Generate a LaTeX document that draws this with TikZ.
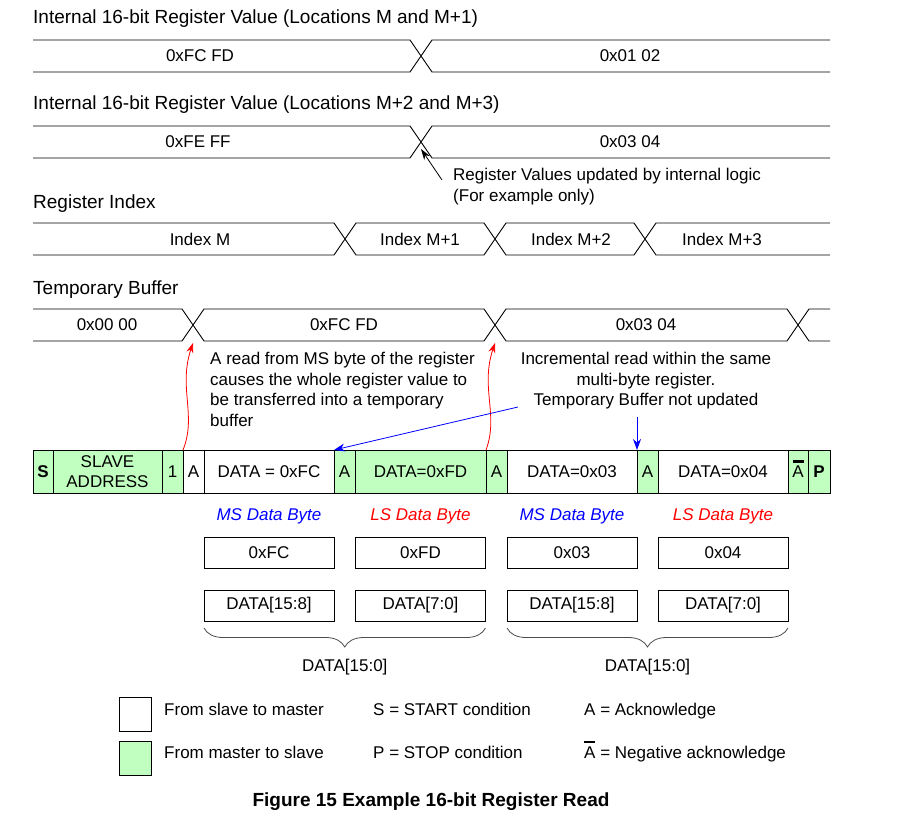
\documentclass[tikz,border=0pt]{standalone}
\usepackage{fontspec}
\setmainfont{Liberation Sans}
\usepackage{tikz}
\usetikzlibrary{arrows.meta,positioning,decorations.pathreplacing,calc}

\definecolor{mgreen}{RGB}{192,255,192}
\newcommand{\bodyfont}{\fontsize{17}{20.7}\selectfont}
\newcommand{\titlefont}{\fontsize{19}{22}\selectfont}
\newcommand{\nackA}{\makebox[0pt][l]{\hspace{0.01em}\smash{\rule[0.86em]{0.65em}{0.16em}}}A}

% bus lines: open left end, open right end, closed segment
\newcommand{\busL}[2]{\draw[bus] (33,#2) -- (#1-11,#2) -- (#1,#2+16) -- (#1-11,#2+32) -- (33,#2+32);}
\newcommand{\busR}[2]{\draw[bus] (830,#2) -- (#1+11,#2) -- (#1,#2+16) -- (#1+11,#2+32) -- (830,#2+32);}
\newcommand{\busM}[3]{\draw[bus] (#1,#3+16) -- (#1+11,#3) -- (#2-11,#3) -- (#2,#3+16) -- (#2-11,#3+32) -- (#1+11,#3+32) -- cycle;}

\begin{document}
\begin{tikzpicture}[
    x=1pt, y=-1pt,
    bus/.style={line width=0.9pt},
    cell/.style={draw, line width=1pt, minimum height=43pt, inner sep=0pt, outer sep=0pt, font=\bodyfont},
    slv/.style={cell, fill=white},
    mst/.style={cell, fill=mgreen},
    databox/.style={draw, line width=0.9pt, minimum width=130pt, minimum height=31pt, inner sep=0pt, outer sep=0pt, font=\bodyfont},
    buslbl/.style={inner sep=0pt, font=\bodyfont},
    ttl/.style={anchor=base west, inner sep=0pt, font=\titlefont},
    txt/.style={anchor=base west, inner sep=0pt, font=\bodyfont},
    note/.style={inner sep=0pt, font=\bodyfont},
    msl/.style={inner sep=0pt, font=\bodyfont\itshape, text=blue},
    lsl/.style={inner sep=0pt, font=\bodyfont\itshape, text=red},
    brc/.style={draw=black!70, line width=0.8pt, decorate, decoration={brace, mirror, amplitude=19pt}},
    keybox/.style={draw, line width=0.9pt, minimum width=32pt, minimum height=34pt, inner sep=0pt},
    redarr/.style={red, line width=0.8pt, -{Stealth[length=10pt, width=7pt]}},
    bluarr/.style={blue, line width=0.8pt, -{Stealth[length=11pt, width=8pt]}},
    updarr/.style={black, line width=0.8pt, -{Stealth[length=11pt, width=7pt]}}
]
    \useasboundingbox (0,0) rectangle (905,816);

    % Register values
    \node[ttl] (t1) at (33,24) {Internal 16-bit Register Value (Locations M and M+1)};
    \busL{421}{40}
    \busR{421}{40}
    \node[buslbl] (v1a) at (200,56) {0xFC FD};
    \node[buslbl] (v1b) at (630,56) {0x01 02};

    \node[ttl] (t2) at (33,110) {Internal 16-bit Register Value (Locations M+2 and M+3)};
    \busL{421}{126}
    \busR{421}{126}
    \node[buslbl] (v2a) at (198,142) {0xFE FF};
    \node[buslbl] (v2b) at (630,142) {0x03 04};

    \coordinate (updTail) at (442,180);
    \coordinate (updTip) at (421,149);
    \draw[updarr] (updTail) -- (updTip);
    \node[note, anchor=north west, align=left] (updNote) at (453,168)
        {Register Values updated by internal logic\\(For example only)};

    % Register index
    \node[ttl] (t3) at (33,208) {Register Index};
    \busL{345}{223}
    \busM{345}{495}{223}
    \busM{495}{645}{223}
    \busR{645}{223}
    \node[buslbl] (ix0) at (200,239) {Index M};
    \node[buslbl] (ix1) at (420,239) {Index M+1};
    \node[buslbl] (ix2) at (571,239) {Index M+2};
    \node[buslbl] (ix3) at (722,239) {Index M+3};

    % Temporary buffer
    \node[ttl] (t4) at (33,294) {Temporary Buffer};
    \busL{193}{309}
    \busM{193}{495}{309}
    \busM{495}{798}{309}
    \busR{798}{309}
    \node[buslbl] (tb0) at (107,325) {0x00 00};
    \node[buslbl] (tb1) at (344,325) {0xFC FD};
    \node[buslbl] (tb2) at (646,325) {0x03 04};

    \node[note, anchor=north west, align=left] (msNote) at (210,352)
        {A read from MS byte of the register\\causes the whole register value to\\be transferred into a temporary\\buffer};
    \node[note, anchor=north, align=center] (incNote) at (646,352)
        {Incremental read within the same\\multi-byte register.\\Temporary Buffer not updated};

    % Bus transaction
    \node[mst, minimum width=20pt, anchor=north west] (start) at (33,450) {\textbf{S}};
    \node[mst, minimum width=109pt, align=center, right=0pt of start] (addr) {SLAVE\\ADDRESS};
    \node[mst, minimum width=21pt, right=0pt of addr] (rw) {1};
    \node[slv, minimum width=21pt, right=0pt of rw] (ack1) {A};
    \node[slv, minimum width=130pt, right=0pt of ack1] (d1) {DATA = 0xFC};
    \node[mst, minimum width=21pt, right=0pt of d1] (ack2) {A};
    \node[mst, minimum width=131pt, right=0pt of ack2] (d2) {DATA=0xFD};
    \node[mst, minimum width=21pt, right=0pt of d2] (ack3) {A};
    \node[slv, minimum width=130pt, right=0pt of ack3] (d3) {DATA=0x03};
    \node[mst, minimum width=21pt, right=0pt of d3] (ack4) {A};
    \node[slv, minimum width=130pt, right=0pt of ack4] (d4) {DATA=0x04};
    \node[mst, minimum width=20pt, right=0pt of d4] (nack) {\nackA};
    \node[mst, minimum width=22pt, right=0pt of nack] (stop) {\textbf{P}};

    % Arrows into the buffer and bus
    \coordinate (swap1) at (193,343);
    \coordinate (swap2) at (495,343);
    \draw[redarr] (ack1.north west) .. controls (197,415) and (178,388) .. (swap1);
    \draw[redarr] (ack3.north west) .. controls (499,415) and (480,388) .. (swap2);
    \coordinate (incTail) at (518,407);
    \coordinate (incTop) at (637,417);
    \draw[bluarr] (incTail) -- (d1.north east);
    \draw[bluarr] (incTop) -- (d3.north east);

    % Data bytes
    \node[databox, below=44pt of d1] (b1) {0xFC};
    \node[databox, below=44pt of d2] (b2) {0xFD};
    \node[databox, below=44pt of d3] (b3) {0x03};
    \node[databox, below=44pt of d4] (b4) {0x04};
    \node[msl, above=13pt of b1] (m1) {MS Data Byte};
    \node[lsl, above=13pt of b2] (l1) {LS Data Byte};
    \node[msl, above=13pt of b3] (m2) {MS Data Byte};
    \node[lsl, above=13pt of b4] (l2) {LS Data Byte};
    \node[databox, below=22pt of b1] (r1) {DATA[15:8]};
    \node[databox, below=22pt of b2] (r2) {DATA[7:0]};
    \node[databox, below=22pt of b3] (r3) {DATA[15:8]};
    \node[databox, below=22pt of b4] (r4) {DATA[7:0]};

    \draw[brc] ([yshift=-7pt]r1.south west) -- ([yshift=-7pt]r2.south east);
    \draw[brc] ([yshift=-7pt]r3.south west) -- ([yshift=-7pt]r4.south east);
    \node[txt, anchor=base] (w1) at ($(r1.south west)!0.5!(r2.south east)+(0,50)$) {DATA[15:0]};
    \node[txt, anchor=base] (w2) at ($(r3.south west)!0.5!(r4.south east)+(0,50)$) {DATA[15:0]};

    % Key
    \node[keybox, fill=white] (keyS) at (135,714) {};
    \node[keybox, fill=mgreen] (keyM) at (135,758) {};
    \node[txt] (k1) at (164,715) {From slave to master};
    \node[txt] (k2) at (164,758) {From master to slave};
    \node[txt] (k3) at (373,715) {S = START condition};
    \node[txt] (k4) at (373,758) {P = STOP condition};
    \node[txt] (k5) at (584,715) {A = Acknowledge};
    \node[txt] (k6) at (584,758) {\nackA{} = Negative acknowledge};

    \node[inner sep=0pt, anchor=base, font=\fontsize{19}{22}\selectfont\bfseries] (cap) at (431,806)
        {Figure 15 Example 16-bit Register Read};
\end{tikzpicture}
\end{document}
